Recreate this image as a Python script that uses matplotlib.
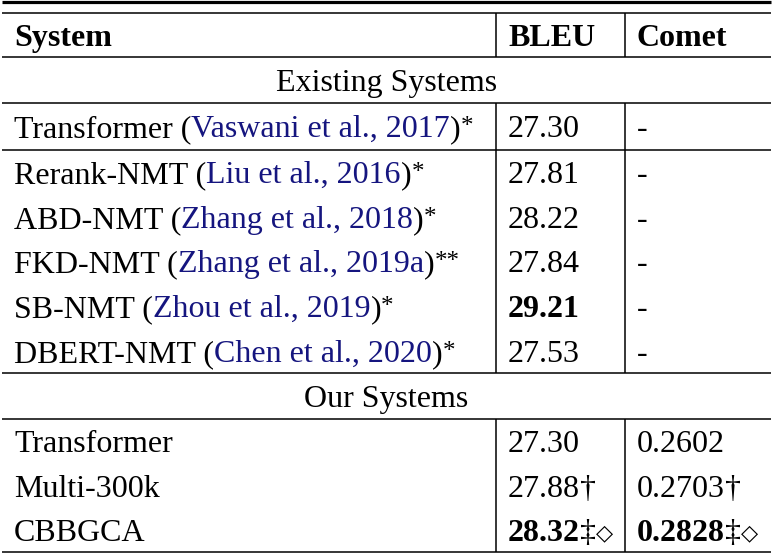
import matplotlib
matplotlib.use('Agg')
import matplotlib.pyplot as plt

plt.rcParams['font.family'] = ['Liberation Serif', 'DejaVu Sans']

# Table contents
headers = ['System', 'BLEU', 'Comet']
group_titles = ['Existing Systems', 'Our Systems']

existing_names = ['Transformer', 'Rerank-NMT', 'ABD-NMT', 'FKD-NMT', 'SB-NMT', 'DBERT-NMT']
existing_cites = ['Vaswani et al., 2017', 'Liu et al., 2016', 'Zhang et al., 2018',
                  'Zhang et al., 2019a', 'Zhou et al., 2019', 'Chen et al., 2020']
existing_marks = ['*', '*', '*', '**', '*', '*']
existing_bleu = ['27.30', '27.81', '28.22', '27.84', '29.21', '27.53']
existing_comet = ['-', '-', '-', '-', '-', '-']
existing_bold = [False, False, False, False, True, False]

our_names = ['Transformer', 'Multi-300k', 'CBBGCA']
our_bleu = ['27.30', '27.88', '28.32']
our_comet = ['0.2602', '0.2703', '0.2828']
our_sig = ['', '\u2020', '\u2021']
our_diamond = [False, False, True]
our_bold = [False, False, True]

W, H = 773, 557
FS = 23
CITE = '#15157f'

fig = plt.figure(figsize=(W / 100, H / 100), dpi=100)
ax = fig.add_axes([0, 0, 1, 1])
ax.set_xlim(0, W)
ax.set_ylim(H, 0)
ax.axis('off')
renderer = fig.canvas.get_renderer()


def run(x, y, pieces):
    # draw pieces one after another on the same baseline
    for txt, kw in pieces:
        opts = dict(fontsize=FS, color='black', va='baseline', ha='left')
        dy = kw.pop('dy', 0)
        opts.update(kw)
        t = ax.text(x, y - dy, txt, **opts)
        bb = t.get_window_extent(renderer)
        x += bb.width
    return x


X0, X1, X2 = 14, 508, 637
V1, V2 = 496, 625
L, R = 2, 771
thin = 1.1

# horizontal rules
ax.plot([L, R], [1.5, 1.5], color='black', lw=2.3, solid_capstyle='butt')
for yy in [13, 57, 103, 150, 373, 419, 552]:
    ax.plot([L, R], [yy, yy], color='black', lw=thin, solid_capstyle='butt')
# vertical rules
for xx in [V1, V2]:
    for a, b in [(13, 57), (103, 373), (419, 552)]:
        ax.plot([xx, xx], [a, b], color='black', lw=thin, solid_capstyle='butt')

off = 11
# header
hy = 35 + off
run(X0, hy, [(headers[0], dict(fontweight='bold'))])
run(X1, hy, [(headers[1], dict(fontweight='bold'))])
run(X2, hy, [(headers[2], dict(fontweight='bold'))])

# group titles
ax.text((L + R) / 2, 80 + off, group_titles[0], fontsize=FS, ha='center', va='baseline')
ax.text((L + R) / 2, 396 + off, group_titles[1], fontsize=FS, ha='center', va='baseline')

# existing systems
ex_centers = [126, 172, 217, 261, 306, 351]
for i, cy in enumerate(ex_centers):
    y = cy + off
    run(X0, y, [(existing_names[i] + ' (', {}),
                (existing_cites[i], dict(color=CITE)),
                (')', {}),
                (existing_marks[i], dict(fontsize=18, dy=4))])
    run(X1, y, [(existing_bleu[i], dict(fontweight='bold' if existing_bold[i] else 'normal'))])
    run(X2, y, [(existing_comet[i], {})])

# our systems
our_centers = [441, 486, 530]
for i, cy in enumerate(our_centers):
    y = cy + off
    w = 'bold' if our_bold[i] else 'normal'
    run(X0, y, [(our_names[i], {})])
    for xs, val in [(X1, our_bleu[i]), (X2, our_comet[i])]:
        pieces = [(val, dict(fontweight=w))]
        if our_sig[i]:
            pieces.append((our_sig[i], dict(fontsize=FS)))
        if our_diamond[i]:
            pieces.append(('\u25c7', dict(fontsize=16, family='DejaVu Sans', dy=2)))
        run(xs, y, pieces)

fig.savefig('out.png', dpi=100)
